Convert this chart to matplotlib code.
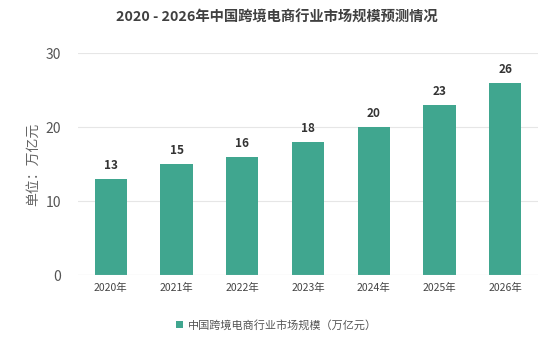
import matplotlib
matplotlib.use("Agg")
import matplotlib.pyplot as plt
from matplotlib.patches import Patch

plt.rcParams['font.family'] = ['Noto Sans CJK SC', 'DejaVu Sans']

years = ["2020年", "2021年", "2022年", "2023年", "2024年", "2025年", "2026年"]
values = [13, 15, 16, 18, 20, 23, 26]
series_name = "中国跨境电商行业市场规模（万亿元）"
title = "2020 - 2026年中国跨境电商行业市场规模预测情况"
ylabel = "单位：万亿元"
yticks = [0, 10, 20, 30]

color = "#40a68f"

fig = plt.figure(figsize=(5.53, 3.4), dpi=100)
ax = fig.add_axes([0.141, 0.191, 0.832, 0.653])
x = list(range(len(years)))
bars = ax.bar(x, values, width=0.49, color=color, zorder=3)
for xi, v in zip(x, values):
    ax.text(xi, v + 0.9, str(v), ha='center', va='bottom', fontsize=8.5,
            fontweight='bold', color='#333333')
ax.set_xlim(-0.5, len(years) - 0.5)
ax.set_ylim(0, 30)
ax.set_yticks(yticks)
ax.set_yticklabels([str(t) for t in yticks], fontsize=10, color='#555555')
ax.set_xticks(x)
ax.set_xticklabels(years, fontsize=7.5, color='#444444')
ax.tick_params(axis='both', length=0)
ax.tick_params(axis='y', pad=12)
ax.tick_params(axis='x', pad=6)
ax.grid(axis='y', color='#e6e6e6', linewidth=0.8, zorder=0)
for s in ax.spines.values():
    s.set_visible(False)
ax.axhline(0, color='#d9d9d9', linewidth=0.8, zorder=4)
ax.set_ylabel(ylabel, fontsize=10, color='#666666', labelpad=4)

fig.text(0.5, 0.948, title, ha='center', va='center', fontsize=10.3,
         fontweight='bold', color='#404040')
fig.legend(handles=[Patch(facecolor=color, label=series_name)],
           loc='center', bbox_to_anchor=(0.5, 0.043), frameon=False,
           fontsize=8, handlelength=0.6, handleheight=0.6, handletextpad=0.4,
           labelcolor='#555555')

fig.savefig("out.png", dpi=100)
